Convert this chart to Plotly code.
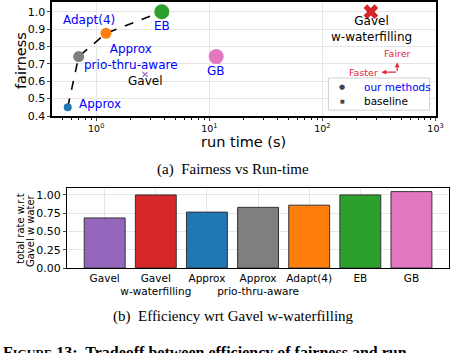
import math
import plotly.graph_objects as go

# ---------------- data ----------------
methods = ["Approx", "Approx<br>prio-thru-aware", "Adapt(4)", "EB", "GB", "Gavel", "Gavel<br>w-waterfilling"]
run_time = [0.56, 0.70, 1.22, 3.8, 11.5, 2.7, 268]
fairness = [0.45, 0.742, 0.876, 1.0, 0.742, 0.64, 1.0]
frontier = ["Approx", "Approx<br>prio-thru-aware", "Adapt(4)", "EB"]

bar_labels = ["Gavel", "Gavel<br>w-waterfilling", "Approx", "Approx<br>prio-thru-aware", "Adapt(4)", "EB", "GB"]
bar_values = [0.685, 1.0, 0.765, 0.83, 0.86, 1.0, 1.045]

x_tick_vals = [1, 10, 100, 1000]
x_tick_text = ["10<sup>0</sup>", "10<sup>1</sup>", "10<sup>2</sup>", "10<sup>3</sup>"]

legend_labels = ["our methods", "baseline"]

# ---------------- styles ----------------
W, H = 474, 353
def px(x): return x / W
def py(y): return 1 - y / H

colors = {"Approx": "#1f77b4", "Approx<br>prio-thru-aware": "#7f7f7f", "Adapt(4)": "#ff7f0e",
          "EB": "#2ca02c", "GB": "#e377c2", "Gavel": "#9467bd", "Gavel<br>w-waterfilling": "#d62728"}
bar_colors = ["#9467bd", "#d62728", "#1f77b4", "#7f7f7f", "#ff7f0e", "#2ca02c", "#e377c2"]
sizes = {"Approx": 8, "Approx<br>prio-thru-aware": 11, "Adapt(4)": 11, "EB": 15, "GB": 15,
         "Gavel": 5, "Gavel<br>w-waterfilling": 13}
symbols = {"Gavel": "x-thin", "Gavel<br>w-waterfilling": "x"}
label_color = {"Gavel": "black", "Gavel<br>w-waterfilling": "black"}
label_shift = {"Approx": (32, 3), "Approx<br>prio-thru-aware": (52, 0), "Adapt(4)": (-17, 13),
               "EB": (0, -14), "GB": (0, -14), "Gavel": (0, -7), "Gavel<br>w-waterfilling": (1, -17)}

SANS = "DejaVu Sans"
SERIF = "Liberation Serif"
RED = "#e8243c"

fig = go.Figure()

# dashed frontier line
fx = [run_time[methods.index(m)] for m in frontier]
fy = [fairness[methods.index(m)] for m in frontier]
fig.add_trace(go.Scatter(x=fx, y=fy, mode="lines", line=dict(color="black", width=1.6, dash="dash"),
                         showlegend=False, xaxis="x", yaxis="y", hoverinfo="skip"))

for m, rt, f in zip(methods, run_time, fairness):
    sym = symbols.get(m, "circle")
    mk = dict(color=colors[m], size=sizes[m], symbol=sym, line=dict(width=0))
    if sym == "x-thin":
        mk["line"] = dict(width=1.2, color=colors[m])
    fig.add_trace(go.Scatter(x=[rt], y=[f], mode="markers", marker=mk, showlegend=False,
                             xaxis="x", yaxis="y"))
    dx, dy = label_shift[m]
    fig.add_annotation(x=math.log10(rt), y=f, xref="x", yref="y", text=m,
                       showarrow=False, xshift=dx, yshift=dy, xanchor="center", yanchor="middle",
                       font=dict(family=SANS, size=12, color=label_color.get(m, "blue")),
                       align="center")

# bars
fig.add_trace(go.Bar(x=list(range(len(bar_values))), y=bar_values, marker=dict(color=bar_colors,
                     line=dict(color="#333333", width=1)), width=0.8, showlegend=False,
                     xaxis="x2", yaxis="y2"))

minor_vals = [k * 10 ** e for e in range(-1, 3) for k in range(2, 10) if 0.41 <= k * 10 ** e <= 1000]

grid = "#e6e6e6"
fig.update_layout(
    width=W, height=H, margin=dict(l=0, r=0, t=0, b=0),
    paper_bgcolor="white", plot_bgcolor="white", showlegend=False,
    font=dict(family=SANS, size=11, color="black"),
    xaxis=dict(domain=[px(53), px(443)], anchor="y", type="log", range=[-0.39, 3],
               tickvals=x_tick_vals, ticktext=x_tick_text, ticks="outside", ticklen=3,
               tickfont=dict(size=9.5), showgrid=True, gridcolor=grid,
               showline=True, linecolor="black", linewidth=1.5, mirror=True, zeroline=False,
               minor=dict(tickvals=minor_vals, ticks="outside", ticklen=2, tickcolor="black", showgrid=False)),
    yaxis=dict(domain=[py(117), 1.0], anchor="x", range=[0.4, 1.056], tickvals=[0.4, 0.5, 0.6, 0.7, 0.8, 0.9, 1.0],
               tickformat=".1f", ticks="outside", ticklen=3, showgrid=True, gridcolor=grid,
               showline=True, linecolor="black", linewidth=1.5, mirror=True, zeroline=False),
    xaxis2=dict(domain=[px(68), px(457)], anchor="y2", range=[-0.74, 6.74],
                tickvals=list(range(len(bar_labels))), ticktext=bar_labels, ticks="", tickangle=0,
                tickfont=dict(size=10.5), showgrid=True, gridcolor=grid,
                showline=True, linecolor="black", linewidth=1, mirror=True, zeroline=False),
    yaxis2=dict(domain=[py(273), py(191)], anchor="x2", range=[0, 1.093],
                tickvals=[0, 0.25, 0.5, 0.75, 1.0], tickformat=".2f", ticks="outside", ticklen=3,
                tickfont=dict(size=11), showgrid=True, gridcolor=grid,
                showline=True, linecolor="black", linewidth=1, mirror=True, zeroline=False),
)

# legend box (manual, matplotlib-like)
fig.add_shape(type="rect", xref="paper", yref="paper", x0=px(334), x1=px(437), y0=py(111), y1=py(78),
              line=dict(color="#d0d0d0", width=1), fillcolor="rgba(255,255,255,0.85)", layer="above")

ann = [
    dict(x=px(22), y=py(60), text="fairness", textangle=-90, font=dict(size=14.5)),
    dict(x=px(248), y=py(144), text="run time (s)", font=dict(size=14.5)),
    dict(x=px(237), y=py(172), text="(a)  Fairness vs Run-time", font=dict(family=SERIF, size=15)),
    dict(x=px(20), y=py(233), text="total rate w.r.t", textangle=-90, font=dict(size=10)),
    dict(x=px(30.5), y=py(234), text="Gavel w water", textangle=-90, font=dict(size=10)),
    dict(x=px(237), y=py(323), text="(b)  Efficiency wrt Gavel w-waterfilling", font=dict(family=SERIF, size=15)),
    dict(x=px(404), y=py(53), text="Fairer", font=dict(size=9.5, color=RED)),
    dict(x=px(370), y=py(72), text="Faster", font=dict(size=9.5, color=RED)),
    dict(x=px(348), y=py(87), text="●", font=dict(size=7, color="#444")),
    dict(x=px(348), y=py(102), text="■", font=dict(size=5, color="#444")),
    dict(x=px(368), y=py(87), text=legend_labels[0], xanchor="left", font=dict(size=10.5, color="blue")),
    dict(x=px(368), y=py(102), text=legend_labels[1], xanchor="left", font=dict(size=10.5, color="black")),
    dict(x=px(1), y=py(349), xanchor="left", yanchor="top",
         text="<b>F<span style='font-size:12px'>IGURE</span> 13:  Tradeoff between efficiency of fairness and run</b>",
         font=dict(family=SERIF, size=16)),
]
for a in ann:
    a.setdefault("xref", "paper"); a.setdefault("yref", "paper"); a.setdefault("showarrow", False)
    a.setdefault("xanchor", "center"); a.setdefault("yanchor", "middle")
    fig.add_annotation(**a)

# arrows
fig.add_annotation(xref="paper", yref="paper", x=px(404), y=py(62), ax=0, ay=10,
                   showarrow=True, arrowhead=2, arrowsize=0.8, arrowwidth=1.2, arrowcolor=RED, text="")
fig.add_annotation(xref="paper", yref="paper", x=px(388), y=py(72), ax=16, ay=0,
                   showarrow=True, arrowhead=2, arrowsize=0.8, arrowwidth=1.2, arrowcolor=RED, text="")

fig.write_html("out.html")
